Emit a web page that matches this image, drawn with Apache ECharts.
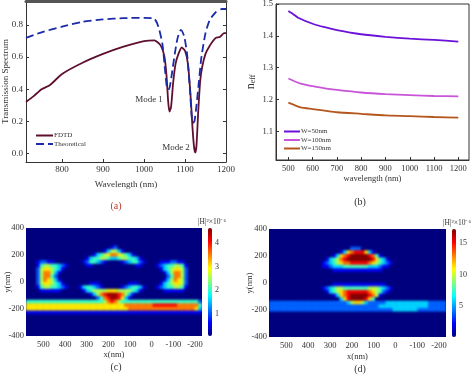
<!DOCTYPE html>
<html>
<head>
<meta charset="utf-8">
<style>
html, body { margin: 0; padding: 0; background: #fff; }
#main, #field { position: absolute; left: 0; top: 0; width: 474px; height: 375px; }
/* the field maps are soft in the source picture, clip happens after the blur */
#field { filter: blur(1.3px); clip-path: path('M26 228h176v108h-176z M269 229h177v108h-177z'); }
</style>
<script src="https://cdn.jsdelivr.net/npm/echarts@6/dist/echarts.min.js"></script>
</head>
<body>
<div id="field"></div>
<div id="main"></div>
<script>
// panel (a)
var fdtdWave = [712,730,750,770,800,850,900,950,1000,1025,1040,1050,1055,1059,1062,1066,1071,1077,1084,1092,1100,1107,1113,1118,1122,1125,1128,1132,1137,1142,1150,1160,1175,1185,1195,1200];
var fdtdVal = [0.32,0.355,0.40,0.425,0.495,0.565,0.62,0.665,0.70,0.705,0.675,0.60,0.48,0.32,0.26,0.29,0.44,0.56,0.62,0.66,0.64,0.56,0.38,0.17,0.04,0.005,0.05,0.25,0.45,0.54,0.62,0.67,0.72,0.725,0.75,0.75];
var theoWave = [712,750,800,850,900,950,1000,1025,1035,1045,1052,1057,1061,1067,1075,1082,1090,1098,1105,1112,1116,1119,1123,1128,1134,1140,1150,1160,1175,1190,1200];
var theoVal = [0.72,0.755,0.79,0.82,0.835,0.843,0.845,0.84,0.79,0.68,0.50,0.40,0.40,0.48,0.62,0.72,0.77,0.73,0.62,0.40,0.24,0.19,0.20,0.30,0.45,0.60,0.75,0.83,0.88,0.90,0.90];
var aXTicks = [800,900,1000,1100,1200];
var aYTicks = [0,0.2,0.4,0.6,0.8];

// panel (b)
var w50Wave = [500,520,540,600,650,700,800,900,1000,1100,1200];
var w50Val = [1.478,1.468,1.457,1.438,1.427,1.418,1.405,1.397,1.391,1.387,1.382];
var w100Wave = [500,550,600,650,700,800,900,1000,1100,1200];
var w100Val = [1.266,1.25,1.242,1.235,1.23,1.222,1.217,1.214,1.211,1.21];
var w150Wave = [500,550,600,650,700,800,900,1000,1100,1200];
var w150Val = [1.19,1.175,1.17,1.165,1.16,1.155,1.15,1.148,1.145,1.143];
var bXTicks = [500,600,700,800,900,1000,1100,1200];
var bYTicks = [1.1,1.2,1.3,1.4,1.5];

// heatmaps, one digit per cell, top row first
var fieldCRows = [
"0000000000 0000000000 0000000000 0000000000 0000000000",
"0000000000 0000000000 0000000000 0000000000 0000000000",
"0000000000 0000000000 0000000000 0000000000 0000000000",
"0000000000 0000000000 0000000000 0000000000 0000000000",
"0000000000 0000000000 0000000000 0000000000 0000000000",
"0000000000 0000000000 0000120000 0000000000 0000000000",
"0000000000 0000000000 0013553100 0000000000 0000000000",
"0000000000 0000000001 3456776543 1000000000 0000000000",
"0000000000 0000000134 4554334554 4310000000 0000000000",
"0001221100 0000001244 3210000123 4421000011 1221100000",
"0001455443 2100000110 0000000000 0110000123 4455410000",
"0002566543 1000000000 0000000000 0000000013 4566520000",
"0002577531 0000000000 0000000000 0000000001 3577520000",
"0002577420 0000000000 0000000000 0000000000 2477520000",
"0002576531 0000000000 0000000000 0000000001 3576520000",
"0002566543 1000000011 1000000001 1100000013 4566520000",
"0001455443 2100013443 2100000123 4431000123 4455410000",
"0000111111 0000001345 5556665555 4310000001 1111100000",
"0000000000 0000000013 5789998753 1000000000 0000000000",
"0000000000 0000000000 2478998631 0000000000 0000000000",
"4444444444 4444444444 4457875444 4444444444 4444444442",
"6666666666 6666666666 6666666677 7777778888 8887777774",
"6666666666 6666666666 6666666667 7777777777 7777777763",
"1111111111 1111111111 1111111111 1111111111 1111111111",
"0000000000 0000000000 0000000000 0000000000 0000000000",
"0000000000 0000000000 0000000000 0000000000 0000000000",
"0000000000 0000000000 0000000000 0000000000 0000000000",
"0000000000 0000000000 0000000000 0000000000 0000000000",
"0000000000 0000000000 0000000000 0000000000 0000000000",
"0000000000 0000000000 0000000000 0000000000 0000000000"
];
var fieldDRows = [
"0000000000 0000000000 0000000000 0000000000 0000000000",
"0000000000 0000000000 0000000000 0000000000 0000000000",
"0000000000 0000000000 0000000000 0000000000 0000000000",
"0000000000 0000000000 0000000000 0000000000 0000000000",
"0000000000 0000000000 0000000000 0000000000 0000000000",
"0000000000 0000000000 0002220000 0000000000 0000000000",
"0000000000 0000000000 1367888631 0000000000 0000000000",
"0000000000 0000000013 6789999987 4100000000 0000000000",
"0000000000 0000001345 7899999998 6431000000 0000000000",
"0000000000 0000012345 6778888876 5432100000 0000000000",
"0000000000 0000011233 3444444433 3211000000 0000000000",
"0000000000 0000000011 1111111111 1100000000 0000000000",
"0000000000 0000000000 0000000000 0000000000 0000000000",
"0000000000 0000000000 0000000000 0000000000 0000000000",
"0000000000 0000000000 0000000000 0000000000 0000000000",
"0000000000 0000000011 1111111111 1110000000 0000000000",
"0000000000 0000012345 5444444455 5432100000 0000000000",
"0000000000 0000001345 6788888876 5421000000 0000000000",
"0000000000 0000000013 6789999987 5100000000 0000000000",
"0000000000 0000000000 3689999864 0000000000 0000000000",
"2222222222 2222222222 2235665322 2223333333 3333322222",
"2222222222 2222222222 2222222222 2333333333 3333322222",
"2222222222 2222222222 2222222222 2222233333 3322222222",
"0000000000 0000000000 0000000000 0000000000 0000000000",
"0000000000 0000000000 0000000000 0000000000 0000000000",
"0000000000 0000000000 0000000000 0000000000 0000000000",
"0000000000 0000000000 0000000000 0000000000 0000000000",
"0000000000 0000000000 0000000000 0000000000 0000000000",
"0000000000 0000000000 0000000000 0000000000 0000000000",
"0000000000 0000000000 0000000000 0000000000 0000000000"
];
var fieldCStep = 0.5;
var fieldDStep = 1.9;
var fieldXTicks = [500,400,300,200,100,0,-100,-200];
var fieldYTicks = [400,200,0,-200,-400];
var barCTicks = [1,2,3,4];
var barDTicks = [5,10,15];
var jetColors = ['#00007f','#0000ff','#007fff','#00ffff','#7fff7f','#ffff00','#ff7f00','#ff0000','#7f0000'];

var FONT = '"Liberation Serif", serif';
var INK = '#333';

function zip(xs, ys) {
    return xs.map(function (x, i) { return [x, ys[i]]; });
}
function cells(rows, step) {
    var out = [];
    rows.forEach(function (row, r) {
        row.replace(/ /g, '').split('').forEach(function (d, c) {
            out.push([c, r, Number(d) * step]);
        });
    });
    return out;
}
function indexList(n) {
    var list = [];
    for (var i = 0; i < n; i++) list.push(i);
    return list;
}
function gridAt(left, top, width, height, extra) {
    return Object.assign({ left: left, top: top, width: width, height: height, outerBoundsMode: 'none' }, extra || {});
}
function lineSeries(name, xi, yi, xs, ys, color, extra) {
    return Object.assign({
        name: name, type: 'line', xAxisIndex: xi, yAxisIndex: yi,
        data: zip(xs, ys), symbol: 'none', smooth: 0.2, clip: true,
        lineStyle: { color: color, width: 1.8 }, itemStyle: { color: color }
    }, extra || {});
}
// axis with ticks only where the picture has them
function valueAxis(pos, grid, min, max, ticks, fontSize, extra) {
    return Object.assign({
        type: 'value', position: pos, gridIndex: grid, min: min, max: max,
        splitLine: { show: false },
        axisLine: { show: true, onZero: false, lineStyle: { color: INK, width: 1 } },
        axisTick: { show: true, inside: true, length: 3, customValues: ticks, lineStyle: { color: INK } },
        axisLabel: { show: true, customValues: ticks, color: INK, fontFamily: FONT, fontSize: fontSize, margin: 4, formatter: function (v) { return String(v); } },
        nameLocation: 'middle',
        nameMoveOverlap: false,
        nameTextStyle: { color: INK, fontFamily: FONT, fontSize: fontSize }
    }, extra || {});
}
function hiddenCat(grid, n, inverse) {
    return { type: 'category', gridIndex: grid, data: indexList(n), inverse: !!inverse, show: false };
}
function fieldXAxis(grid, gap) {
    return valueAxis('bottom', grid, -232, 580, fieldXTicks, 8.5, {
        inverse: true, name: 'x(nm)', nameGap: gap,
        axisLine: { show: false, onZero: false }, axisTick: { show: false },
        axisLabel: { customValues: fieldXTicks, color: INK, fontFamily: FONT, fontSize: 8.5, margin: 4 }
    });
}
function fieldYAxis(grid, gap) {
    return valueAxis('left', grid, -400, 400, fieldYTicks, 8.5, {
        name: 'y(nm)', nameGap: gap,
        axisLine: { show: false, onZero: false }, axisTick: { show: false },
        axisLabel: { customValues: fieldYTicks, color: INK, fontFamily: FONT, fontSize: 8.5, margin: 2 }
    });
}
function barAxis(grid, min, max, ticks) {
    return valueAxis('right', grid, min, max, ticks, 8, {
        axisLine: { show: false, onZero: false }, axisTick: { show: false },
        axisLabel: { customValues: ticks, color: INK, fontFamily: FONT, fontSize: 8, margin: 3 }
    });
}
function text(x, y, str, size, color, align) {
    return {
        type: 'text', x: x, y: y, silent: true,
        style: { text: str, fontFamily: FONT, fontSize: size, fill: color || INK, align: align || 'center', verticalAlign: 'middle' }
    };
}

// field maps, own instance so only they get the css blur
var fieldChart = echarts.init(document.getElementById('field'));
fieldChart.setOption({
    animation: false,
    backgroundColor: '#00007f',
    grid: [gridAt(26, 228, 176, 108), gridAt(269, 229, 177, 108)],
    xAxis: [hiddenCat(0, 50), hiddenCat(1, 50)],
    yAxis: [hiddenCat(0, 30, true), hiddenCat(1, 30, true)],
    visualMap: [
        { type: 'continuous', seriesIndex: 0, min: 0, max: 4.63, show: false, inRange: { color: jetColors } },
        { type: 'continuous', seriesIndex: 1, min: 0, max: 17.2, show: false, inRange: { color: jetColors } }
    ],
    series: [
        { type: 'heatmap', xAxisIndex: 0, yAxisIndex: 0, data: cells(fieldCRows, fieldCStep), silent: true },
        { type: 'heatmap', xAxisIndex: 1, yAxisIndex: 1, data: cells(fieldDRows, fieldDStep), silent: true }
    ]
});

var myChart = echarts.init(document.getElementById('main'));
var option = {
    animation: false,
    backgroundColor: 'transparent',
    grid: [
        gridAt(26, 1, 200, 161),
        gridAt(276, 4, 193, 156, { show: true, borderColor: INK, borderWidth: 1, backgroundColor: 'transparent' }),
        gridAt(26, 228, 176, 108),
        gridAt(269, 229, 177, 108),
        gridAt(208, 228, 4, 108),
        gridAt(452, 229, 4, 108)
    ],
    xAxis: [
        valueAxis('bottom', 0, 712, 1200, aXTicks, 9, { name: 'Wavelength (nm)', nameGap: 18, axisLabel: { customValues: aXTicks, color: INK, fontFamily: FONT, fontSize: 9, margin: 3, formatter: function (v) { return String(v); } } }),
        { type: 'value', position: 'top', gridIndex: 0, min: 712, max: 1200, axisLine: { show: true, onZero: false, lineStyle: { color: '#555', width: 3 } }, axisTick: { show: false }, axisLabel: { show: false }, splitLine: { show: false } },
        valueAxis('bottom', 1, 449, 1244, bXTicks, 8.5, { name: 'wavelength (nm)', nameGap: 14 }),
        fieldXAxis(2, 14),
        fieldXAxis(3, 15),
        { type: 'value', gridIndex: 4, show: false, min: 0, max: 1 },
        { type: 'value', gridIndex: 5, show: false, min: 0, max: 1 }
    ],
    yAxis: [
        valueAxis('left', 0, -0.054, 0.95, aYTicks, 9, { name: 'Transmission Spectrum', nameGap: 16, axisLabel: { customValues: aYTicks, color: INK, fontFamily: FONT, fontSize: 9, margin: 3, formatter: function (v) { return v.toFixed(1); } } }),
        valueAxis('right', 0, -0.054, 0.95, aYTicks, 9, { axisLabel: { show: false } }),
        valueAxis('left', 1, 1.01, 1.5, bYTicks, 8.5, {
            name: '{n|n}{s|eff}', nameGap: 19,
            nameTextStyle: { rich: { n: { fontFamily: FONT, fontSize: 12, color: INK }, s: { fontFamily: FONT, fontSize: 8, color: INK, verticalAlign: 'bottom', padding: [5, 0, 0, 0] } } },
            axisLabel: { customValues: bYTicks, color: INK, fontFamily: FONT, fontSize: 8.5, margin: 3, formatter: function (v) { return v.toFixed(1); } }
        }),
        fieldYAxis(2, 14),
        fieldYAxis(3, 15),
        barAxis(4, 0.05, 4.63, barCTicks),
        barAxis(5, 0.1, 17.2, barDTicks)
    ],
    visualMap: [
        { type: 'continuous', seriesIndex: [], min: 0, max: 4.63, left: 208, top: 228, itemWidth: 4, itemHeight: 108, padding: 0, calculable: false, hoverLink: false, inRange: { color: jetColors } },
        { type: 'continuous', seriesIndex: [], min: 0, max: 17.2, left: 452, top: 229, itemWidth: 4, itemHeight: 108, padding: 0, calculable: false, hoverLink: false, inRange: { color: jetColors } }
    ],
    legend: [
        { data: ['FDTD', 'Theoretical'], orient: 'vertical', left: 35, top: 132, padding: 0, itemGap: 1.5, itemWidth: 17, itemHeight: 8, itemStyle: { opacity: 0 }, textStyle: { fontFamily: FONT, fontSize: 7, color: INK, padding: [0, 0, 0, -4] } },
        { data: ['W=50nm', 'W=100nm', 'W=150nm'], orient: 'vertical', left: 283, top: 128, padding: 0, itemGap: 1.5, itemWidth: 16, itemHeight: 8, itemStyle: { opacity: 0 }, textStyle: { fontFamily: FONT, fontSize: 7, color: INK, padding: [0, 0, 0, -4] } }
    ],
    series: [
        lineSeries('FDTD', 0, 0, fdtdWave, fdtdVal, '#5f1030', { z: 2 }),
        lineSeries('Theoretical', 0, 0, theoWave, theoVal, '#1a2aa8', { z: 3, lineStyle: { color: '#1a2aa8', width: 1.8, type: [8, 4] } }),
        lineSeries('W=50nm', 2, 2, w50Wave, w50Val, '#6a12d8'),
        lineSeries('W=100nm', 2, 2, w100Wave, w100Val, '#c855d8'),
        lineSeries('W=150nm', 2, 2, w150Wave, w150Val, '#b5561c')
    ],
    graphic: [
        text(149, 100, 'Mode 1', 9),
        text(176, 148, 'Mode 2', 9),
        text(116, 206, '(a)', 10, '#c0392b'),
        text(360, 202, '(b)', 10),
        text(116, 367, '(c)', 10),
        text(360, 369, '(d)', 10),
        text(212, 222, '|H|²×10⁻⁶', 7.5),
        text(457, 223, '|H|²×10⁻⁶', 7.5)
    ]
};
myChart.setOption(option);
</script>
</body>
</html>
